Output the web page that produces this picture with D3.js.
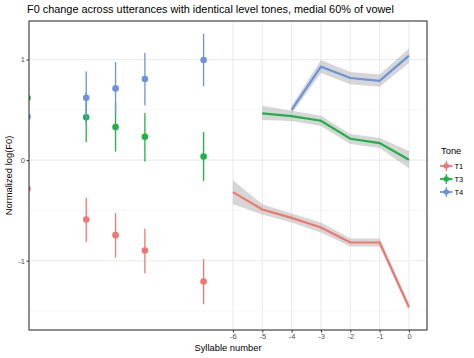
<!DOCTYPE html>
<html><head><meta charset="utf-8">
<script src="https://cdnjs.cloudflare.com/ajax/libs/d3/7.8.5/d3.min.js"></script>
<style>body{margin:0;background:#fff}svg{display:block;font-family:"Liberation Sans",Arial,sans-serif}</style>
</head><body><svg id="c" width="474" height="358"></svg>
<script>
const tones = ["T1","T3","T4"];
const toneColors = ["#F0766E","#1DB245","#6A93DC"];
const pointX = [-13,-11,-10,-9,-7];
const t1Mean = [-0.285,-0.59,-0.746,-0.899,-1.207];
const t1Lo   = [null,-0.813,-0.968,-1.124,-1.433];
const t1Hi   = [null,-0.375,-0.527,-0.683,-0.985];
const t3Mean = [0.617,0.425,0.328,0.232,0.036];
const t3Lo   = [null,0.179,0.086,-0.013,-0.206];
const t3Hi   = [null,0.67,0.57,0.468,0.279];
const t4Mean = [0.431,0.62,0.713,0.806,0.995];
const t4Lo   = [null,0.36,0.45,0.544,0.733];
const t4Hi   = [null,0.88,0.975,1.065,1.257];

const t1LineX = [-6,-5,-4,-3,-2,-1,0];
const t1Line  = [-0.318,-0.491,-0.574,-0.670,-0.819,-0.819,-1.463];
const t1RibLo = [-0.44,-0.54,-0.62,-0.72,-0.86,-0.86,-1.49];
const t1RibHi = [-0.20,-0.44,-0.53,-0.62,-0.78,-0.78,-1.43];
const t3LineX = [-5,-4,-3,-2,-1,0];
const t3Line  = [0.464,0.438,0.391,0.212,0.169,0.003];
const t3RibLo = [0.40,0.39,0.34,0.16,0.12,-0.08];
const t3RibHi = [0.54,0.49,0.44,0.26,0.22,0.09];
const t4LineX = [-4,-3,-2,-1,0];
const t4Line  = [0.50,0.929,0.816,0.789,1.038];
const t4RibLo = [0.46,0.865,0.755,0.73,0.965];
const t4RibHi = [0.54,0.995,0.875,0.85,1.11];

const xTicks = [-6,-5,-4,-3,-2,-1,0];
const yTicks = [-1,0,1];
const yMinor = [-1.5,-0.5,0.5];

const P = {l:29, r:427, t:21, b:330};
const x = d3.scaleLinear().domain([-12.95,0.614]).range([P.l,P.r]);
const y = d3.scaleLinear().domain([-1.689,1.383]).range([P.b,P.t]);
const svg = d3.select("#c");

svg.append("text").attr("x",27).attr("y",13).attr("font-size",10.9).attr("fill","#000")
  .text("F0 change across utterances with identical level tones, medial 60% of vowel");

svg.append("defs").append("clipPath").attr("id","pc").append("rect")
  .attr("x",P.l).attr("y",P.t).attr("width",P.r-P.l).attr("height",P.b-P.t);

const g = svg.append("g");
g.append("rect").attr("x",P.l).attr("y",P.t).attr("width",P.r-P.l).attr("height",P.b-P.t).attr("fill","#fff");
g.selectAll(".ym").data(yMinor).join("line").attr("x1",P.l).attr("x2",P.r)
  .attr("y1",d=>y(d)).attr("y2",d=>y(d)).attr("stroke","#f2f2f2").attr("stroke-width",0.6);
g.selectAll(".yg").data(yTicks).join("line").attr("x1",P.l).attr("x2",P.r)
  .attr("y1",d=>y(d)).attr("y2",d=>y(d)).attr("stroke","#ebebeb").attr("stroke-width",1.1);
g.selectAll(".xg").data(xTicks).join("line").attr("y1",P.t).attr("y2",P.b)
  .attr("x1",d=>x(d)).attr("x2",d=>x(d)).attr("stroke","#ebebeb").attr("stroke-width",1.1);

const data = [
  {mean:t1Mean, lo:t1Lo, hi:t1Hi, lx:t1LineX, ly:t1Line, rlo:t1RibLo, rhi:t1RibHi},
  {mean:t3Mean, lo:t3Lo, hi:t3Hi, lx:t3LineX, ly:t3Line, rlo:t3RibLo, rhi:t3RibHi},
  {mean:t4Mean, lo:t4Lo, hi:t4Hi, lx:t4LineX, ly:t4Line, rlo:t4RibLo, rhi:t4RibHi}
];
const cg = g.append("g").attr("clip-path","url(#pc)");
const area = d3.area().x(d=>x(d[0])).y0(d=>y(d[1])).y1(d=>y(d[2]));
const line = d3.line().x(d=>x(d[0])).y(d=>y(d[1]));
data.forEach((s,i)=>{
  const col = toneColors[i];
  cg.append("path").datum(s.lx.map((v,j)=>[v,s.rlo[j],s.rhi[j]])).attr("d",area)
    .attr("fill","#999").attr("fill-opacity",0.4);
  cg.append("path").datum(s.lx.map((v,j)=>[v,s.ly[j]])).attr("d",line)
    .attr("fill","none").attr("stroke",col).attr("stroke-width",2.2);
  pointX.forEach((px,j)=>{
    if(s.lo[j]!==null){
      cg.append("line").attr("x1",x(px)).attr("x2",x(px)).attr("y1",y(s.lo[j])).attr("y2",y(s.hi[j]))
        .attr("stroke",col).attr("stroke-width",1.3);
    }
    cg.append("circle").attr("cx",x(px)).attr("cy",y(s.mean[j])).attr("r",3.3).attr("fill",col);
  });
});
g.append("rect").attr("x",P.l).attr("y",P.t).attr("width",P.r-P.l).attr("height",P.b-P.t)
  .attr("fill","none").attr("stroke","#333").attr("stroke-width",1.1);

// axes
const fmt = d => String(d);
const xa = svg.append("g").attr("transform",`translate(0,${P.b})`)
  .call(d3.axisBottom(x).tickValues(xTicks).tickSize(2.5).tickPadding(1.5).tickFormat(fmt));
const ya = svg.append("g").attr("transform",`translate(${P.l},0)`)
  .call(d3.axisLeft(y).tickValues(yTicks).tickSize(2.5).tickPadding(1.5).tickFormat(fmt));
[xa,ya].forEach(a=>{
  a.select(".domain").remove();
  a.selectAll(".tick line").attr("stroke","#333");
  a.selectAll(".tick text").attr("fill","#4d4d4d").attr("font-size",7.5).attr("font-family","Liberation Sans, Arial, sans-serif");
});

svg.append("text").attr("x",(P.l+P.r)/2).attr("y",351).attr("text-anchor","middle")
  .attr("font-size",9.4).attr("fill","#000").text("Syllable number");
svg.append("text").attr("transform",`translate(11.5,${(P.t+P.b)/2}) rotate(-90)`).attr("text-anchor","middle")
  .attr("font-size",9.4).attr("fill","#000").text("Normalized log(F0)");

// legend
const lg = svg.append("g");
lg.append("text").attr("x",441).attr("y",154).attr("font-size",9.4).attr("fill","#000").text("Tone");
tones.forEach((t,i)=>{
  const cy = 166 + i*13;
  const k = lg.append("g");
  k.append("line").attr("x1",440).attr("x2",452.5).attr("y1",cy).attr("y2",cy).attr("stroke",toneColors[i]).attr("stroke-width",1.8);
  k.append("line").attr("x1",446.3).attr("x2",446.3).attr("y1",cy-5).attr("y2",cy+5).attr("stroke",toneColors[i]).attr("stroke-width",1.2);
  k.append("circle").attr("cx",446.3).attr("cy",cy).attr("r",2.8).attr("fill",toneColors[i]);
  k.append("text").attr("x",454.5).attr("y",cy+2.6).attr("font-size",7.5).attr("fill","#000").text(t);
});
</script></body></html>
